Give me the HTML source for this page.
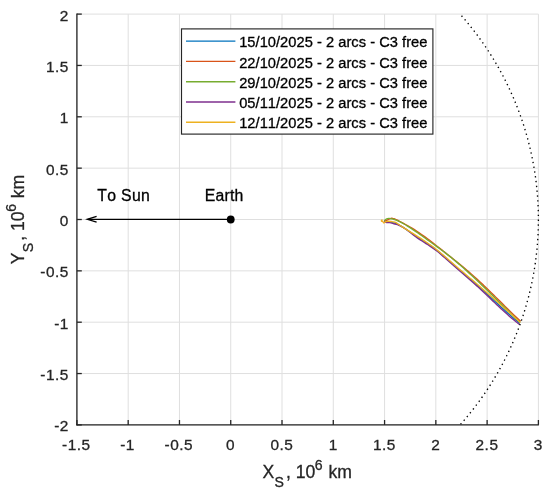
<!DOCTYPE html><html><head><meta charset="utf-8"><title>plot</title><style>html,body{margin:0;padding:0;background:#fff;}svg{display:block}text{font-family:"Liberation Sans",sans-serif;fill:#262626;stroke:#262626;stroke-width:0.3px;font-kerning:none}text.k{fill:#000;stroke:#000}</style></head><body>
<svg width="550" height="495" viewBox="0 0 550 495">
<rect width="550" height="495" fill="#fff"/>
<g stroke="#dfdfdf" stroke-width="1" fill="none">
<line x1="76.90" y1="14.1" x2="76.90" y2="424.9"/>
<line x1="128.18" y1="14.1" x2="128.18" y2="424.9"/>
<line x1="179.46" y1="14.1" x2="179.46" y2="424.9"/>
<line x1="230.73" y1="14.1" x2="230.73" y2="424.9"/>
<line x1="282.01" y1="14.1" x2="282.01" y2="424.9"/>
<line x1="333.29" y1="14.1" x2="333.29" y2="424.9"/>
<line x1="384.57" y1="14.1" x2="384.57" y2="424.9"/>
<line x1="435.84" y1="14.1" x2="435.84" y2="424.9"/>
<line x1="487.12" y1="14.1" x2="487.12" y2="424.9"/>
<line x1="538.40" y1="14.1" x2="538.40" y2="424.9"/>
<line x1="76.9" y1="14.10" x2="538.4" y2="14.10"/>
<line x1="76.9" y1="65.45" x2="538.4" y2="65.45"/>
<line x1="76.9" y1="116.80" x2="538.4" y2="116.80"/>
<line x1="76.9" y1="168.15" x2="538.4" y2="168.15"/>
<line x1="76.9" y1="219.50" x2="538.4" y2="219.50"/>
<line x1="76.9" y1="270.85" x2="538.4" y2="270.85"/>
<line x1="76.9" y1="322.20" x2="538.4" y2="322.20"/>
<line x1="76.9" y1="373.55" x2="538.4" y2="373.55"/>
<line x1="76.9" y1="424.90" x2="538.4" y2="424.90"/>
</g>
<g fill="none" stroke-width="1.35" stroke-linejoin="round" stroke-linecap="butt">
<path d="M384.30,221.00 C384.62,221.17 385.50,221.84 386.20,222.00 C386.90,222.16 387.45,221.87 388.50,221.97 C389.55,222.06 391.17,222.29 392.50,222.58 C393.83,222.87 395.17,223.17 396.50,223.71 C397.83,224.24 399.17,225.05 400.50,225.81 C401.83,226.57 403.17,227.40 404.50,228.26 C405.83,229.12 407.17,230.04 408.50,230.96 C409.83,231.88 411.17,232.83 412.50,233.76 C413.83,234.68 415.17,235.61 416.50,236.50 C417.83,237.40 419.17,238.27 420.50,239.15 C421.83,240.02 423.17,240.88 424.50,241.75 C425.83,242.63 427.17,243.49 428.50,244.40 C429.83,245.30 431.17,246.21 432.50,247.17 C433.83,248.13 435.17,249.11 436.50,250.15 C437.83,251.18 439.17,252.27 440.50,253.38 C441.83,254.49 443.17,255.66 444.50,256.82 C445.83,257.98 447.17,259.17 448.50,260.35 C449.83,261.52 451.17,262.71 452.50,263.88 C453.83,265.05 455.17,266.21 456.50,267.37 C457.83,268.53 459.17,269.68 460.50,270.83 C461.83,271.98 463.17,273.11 464.50,274.25 C465.83,275.39 467.17,276.53 468.50,277.67 C469.83,278.81 471.17,279.95 472.50,281.11 C473.83,282.26 475.17,283.42 476.50,284.60 C477.83,285.77 479.17,286.96 480.50,288.16 C481.83,289.36 483.17,290.57 484.50,291.78 C485.83,292.99 487.17,294.22 488.50,295.44 C489.83,296.66 491.17,297.90 492.50,299.12 C493.83,300.35 495.17,301.58 496.50,302.81 C497.83,304.03 499.17,305.26 500.50,306.47 C501.83,307.69 503.17,308.90 504.50,310.10 C505.83,311.30 507.17,312.49 508.50,313.67 C509.83,314.85 511.17,316.02 512.50,317.17 C513.83,318.32 515.27,319.56 516.50,320.57 C517.73,321.58 519.33,322.79 519.90,323.23" stroke="#0072BD"/>
<path d="M384.40,221.00 C384.78,220.88 385.93,220.62 386.70,220.30 C387.47,219.98 388.27,219.43 389.00,219.10 C389.73,218.77 390.53,218.43 391.10,218.30 C391.67,218.17 391.92,218.25 392.40,218.30 C392.88,218.35 393.48,218.42 394.00,218.60 C394.52,218.78 394.58,218.93 395.50,219.37 C396.42,219.81 398.17,220.58 399.50,221.24 C400.83,221.89 402.17,222.57 403.50,223.28 C404.83,223.99 406.17,224.73 407.50,225.50 C408.83,226.27 410.17,227.06 411.50,227.88 C412.83,228.70 414.17,229.54 415.50,230.41 C416.83,231.28 418.17,232.17 419.50,233.08 C420.83,234.00 422.17,234.94 423.50,235.89 C424.83,236.85 426.17,237.83 427.50,238.83 C428.83,239.82 430.17,240.83 431.50,241.86 C432.83,242.88 434.17,243.92 435.50,244.96 C436.83,246.00 438.17,247.05 439.50,248.11 C440.83,249.16 442.17,250.22 443.50,251.28 C444.83,252.34 446.17,253.39 447.50,254.45 C448.83,255.51 450.17,256.57 451.50,257.63 C452.83,258.69 454.17,259.75 455.50,260.82 C456.83,261.89 458.17,262.96 459.50,264.05 C460.83,265.14 462.17,266.23 463.50,267.33 C464.83,268.44 466.17,269.56 467.50,270.69 C468.83,271.83 470.17,272.97 471.50,274.14 C472.83,275.31 474.17,276.49 475.50,277.70 C476.83,278.90 478.17,280.13 479.50,281.37 C480.83,282.61 482.17,283.87 483.50,285.14 C484.83,286.42 486.17,287.70 487.50,289.00 C488.83,290.29 490.17,291.60 491.50,292.92 C492.83,294.23 494.17,295.55 495.50,296.87 C496.83,298.19 498.17,299.52 499.50,300.85 C500.83,302.17 502.17,303.50 503.50,304.82 C504.83,306.14 506.17,307.46 507.50,308.77 C508.83,310.08 510.17,311.39 511.50,312.68 C512.83,313.97 513.98,315.08 515.50,316.52 C517.02,317.96 519.75,320.50 520.60,321.30" stroke="#D95319"/>
<path d="M384.20,220.90 C384.33,220.77 384.67,220.40 385.00,220.10 C385.33,219.80 385.80,219.36 386.20,219.10 C386.60,218.84 386.93,218.67 387.40,218.55 C387.87,218.43 388.45,218.40 389.00,218.40 C389.55,218.40 390.03,218.43 390.70,218.55 C391.37,218.67 392.20,218.89 393.00,219.10 C393.80,219.31 394.42,219.41 395.50,219.83 C396.58,220.26 398.17,220.98 399.50,221.63 C400.83,222.28 402.17,222.98 403.50,223.73 C404.83,224.47 406.17,225.26 407.50,226.08 C408.83,226.90 410.17,227.75 411.50,228.63 C412.83,229.50 414.17,230.41 415.50,231.32 C416.83,232.24 418.17,233.18 419.50,234.12 C420.83,235.06 422.17,236.02 423.50,236.97 C424.83,237.93 426.17,238.89 427.50,239.84 C428.83,240.80 430.17,241.76 431.50,242.72 C432.83,243.68 434.17,244.64 435.50,245.61 C436.83,246.58 438.17,247.56 439.50,248.55 C440.83,249.54 442.17,250.53 443.50,251.55 C444.83,252.56 446.17,253.59 447.50,254.63 C448.83,255.68 450.17,256.74 451.50,257.82 C452.83,258.91 454.17,260.01 455.50,261.13 C456.83,262.25 458.17,263.39 459.50,264.54 C460.83,265.70 462.17,266.87 463.50,268.05 C464.83,269.24 466.17,270.44 467.50,271.65 C468.83,272.86 470.17,274.08 471.50,275.32 C472.83,276.56 474.17,277.80 475.50,279.06 C476.83,280.32 478.17,281.58 479.50,282.86 C480.83,284.13 482.17,285.42 483.50,286.70 C484.83,287.99 486.17,289.29 487.50,290.59 C488.83,291.89 490.17,293.19 491.50,294.50 C492.83,295.81 494.17,297.12 495.50,298.43 C496.83,299.74 498.17,301.06 499.50,302.37 C500.83,303.69 502.17,305.00 503.50,306.31 C504.83,307.63 506.17,308.94 507.50,310.24 C508.83,311.55 510.17,312.85 511.50,314.15 C512.83,315.45 514.05,316.63 515.50,318.03 C516.95,319.43 519.42,321.79 520.20,322.54" stroke="#77AC30"/>
<path d="M384.30,221.20 C384.58,221.38 385.30,222.07 386.00,222.30 C386.70,222.53 387.65,222.50 388.50,222.60 C389.35,222.70 390.30,222.72 391.10,222.90 C391.90,223.08 392.27,223.41 393.30,223.68 C394.33,223.95 395.97,224.07 397.30,224.51 C398.63,224.94 399.97,225.57 401.30,226.29 C402.63,227.00 403.97,227.88 405.30,228.79 C406.63,229.71 407.97,230.75 409.30,231.77 C410.63,232.79 411.97,233.89 413.30,234.90 C414.63,235.91 415.97,236.90 417.30,237.84 C418.63,238.78 419.97,239.64 421.30,240.51 C422.63,241.39 423.97,242.21 425.30,243.06 C426.63,243.92 427.97,244.75 429.30,245.62 C430.63,246.50 431.97,247.38 433.30,248.33 C434.63,249.28 435.97,250.27 437.30,251.32 C438.63,252.37 439.97,253.50 441.30,254.65 C442.63,255.79 443.97,256.98 445.30,258.16 C446.63,259.34 447.97,260.53 449.30,261.72 C450.63,262.90 451.97,264.09 453.30,265.27 C454.63,266.46 455.97,267.64 457.30,268.81 C458.63,269.98 459.97,271.15 461.30,272.31 C462.63,273.47 463.97,274.61 465.30,275.76 C466.63,276.91 467.97,278.06 469.30,279.21 C470.63,280.37 471.97,281.53 473.30,282.71 C474.63,283.90 475.97,285.10 477.30,286.31 C478.63,287.53 479.97,288.76 481.30,290.01 C482.63,291.25 483.97,292.52 485.30,293.78 C486.63,295.04 487.97,296.32 489.30,297.59 C490.63,298.86 491.97,300.14 493.30,301.41 C494.63,302.68 495.97,303.95 497.30,305.20 C498.63,306.46 499.97,307.71 501.30,308.95 C502.63,310.18 503.97,311.40 505.30,312.60 C506.63,313.80 507.97,314.99 509.30,316.15 C510.63,317.30 511.97,318.44 513.30,319.54 C514.63,320.64 516.27,321.94 517.30,322.75 C518.33,323.57 519.13,324.15 519.50,324.43" stroke="#7E2F8E"/>
<path d="M382.60,219.90 C382.42,219.98 381.67,220.18 381.50,220.40 C381.33,220.62 381.38,221.03 381.60,221.20 C381.82,221.37 382.53,221.23 382.80,221.40 C383.07,221.57 383.02,221.95 383.20,222.20 C383.38,222.45 383.63,222.87 383.90,222.90 C384.17,222.93 384.52,222.60 384.80,222.40 C385.08,222.20 385.07,221.88 385.60,221.70 C386.13,221.52 387.08,221.33 388.00,221.30 C388.92,221.27 390.22,221.40 391.10,221.50 C391.98,221.60 392.57,221.75 393.30,221.90 C394.03,222.05 394.47,221.89 395.50,222.41 C396.53,222.93 398.17,224.18 399.50,225.05 C400.83,225.91 402.17,226.76 403.50,227.61 C404.83,228.45 406.17,229.29 407.50,230.12 C408.83,230.96 410.17,231.78 411.50,232.62 C412.83,233.45 414.17,234.28 415.50,235.12 C416.83,235.96 418.17,236.80 419.50,237.66 C420.83,238.52 422.17,239.39 423.50,240.27 C424.83,241.16 426.17,242.05 427.50,242.98 C428.83,243.90 430.17,244.84 431.50,245.80 C432.83,246.77 434.17,247.76 435.50,248.78 C436.83,249.81 438.17,250.86 439.50,251.94 C440.83,253.03 442.17,254.16 443.50,255.31 C444.83,256.45 446.17,257.64 447.50,258.81 C448.83,259.98 450.17,261.16 451.50,262.32 C452.83,263.49 454.17,264.64 455.50,265.78 C456.83,266.93 458.17,268.07 459.50,269.20 C460.83,270.34 462.17,271.46 463.50,272.59 C464.83,273.72 466.17,274.84 467.50,275.97 C468.83,277.09 470.17,278.22 471.50,279.35 C472.83,280.48 474.17,281.61 475.50,282.75 C476.83,283.89 478.17,285.03 479.50,286.18 C480.83,287.33 482.17,288.49 483.50,289.66 C484.83,290.82 486.17,291.99 487.50,293.17 C488.83,294.35 490.17,295.53 491.50,296.71 C492.83,297.89 494.17,299.08 495.50,300.27 C496.83,301.46 498.17,302.65 499.50,303.85 C500.83,305.04 502.17,306.24 503.50,307.43 C504.83,308.62 506.17,309.82 507.50,311.01 C508.83,312.20 510.17,313.40 511.50,314.59 C512.83,315.77 514.03,316.85 515.50,318.15 C516.97,319.45 519.50,321.68 520.30,322.39" stroke="#EDB120"/>
</g>
<path d="M460.05,14.10 L460.80,14.94 L461.55,15.78 L462.29,16.63 L463.02,17.47 L463.76,18.32 L464.49,19.18 L465.22,20.03 L465.94,20.89 L466.67,21.75 L467.38,22.61 L468.10,23.48 L468.81,24.35 L469.52,25.22 L470.23,26.09 L470.93,26.97 L471.63,27.85 L472.33,28.73 L473.02,29.61 L473.71,30.50 L474.40,31.39 L475.08,32.28 L475.76,33.18 L476.44,34.07 L477.11,34.97 L477.78,35.87 L478.45,36.78 L479.12,37.68 L479.78,38.59 L480.43,39.50 L481.09,40.42 L481.74,41.33 L482.39,42.25 L483.03,43.17 L483.67,44.09 L484.31,45.02 L484.94,45.95 L485.57,46.88 L486.20,47.81 L486.83,48.74 L487.45,49.68 L488.06,50.62 L488.68,51.56 L489.29,52.50 L489.89,53.45 L490.50,54.40 L491.10,55.35 L491.69,56.30 L492.29,57.26 L492.87,58.21 L493.46,59.17 L494.04,60.13 L494.62,61.10 L495.20,62.06 L495.77,63.03 L496.34,64.00 L496.90,64.97 L497.46,65.94 L498.02,66.92 L498.58,67.90 L499.13,68.88 L499.67,69.86 L500.22,70.84 L500.76,71.83 L501.29,72.81 L501.83,73.80 L502.35,74.79 L502.88,75.79 L503.40,76.78 L503.92,77.78 L504.43,78.78 L504.95,79.78 L505.45,80.78 L505.96,81.79 L506.46,82.79 L506.95,83.80 L507.44,84.81 L507.93,85.82 L508.42,86.84 L508.90,87.85 L509.38,88.87 L509.85,89.89 L510.32,90.91 L510.79,91.93 L511.25,92.96 L511.71,93.98 L512.17,95.01 L512.62,96.04 L513.07,97.07 L513.51,98.10 L513.95,99.14 L514.39,100.17 L514.82,101.21 L515.25,102.25 L515.68,103.29 L516.10,104.33 L516.51,105.37 L516.93,106.42 L517.34,107.47 L517.74,108.51 L518.15,109.56 L518.55,110.61 L518.94,111.67 L519.33,112.72 L519.72,113.78 L520.10,114.83 L520.48,115.89 L520.86,116.95 L521.23,118.01 L521.60,119.07 L521.96,120.14 L522.32,121.20 L522.68,122.27 L523.03,123.33 L523.38,124.40 L523.72,125.47 L524.06,126.54 L524.40,127.62 L524.73,128.69 L525.06,129.76 L525.39,130.84 L525.71,131.92 L526.02,133.00 L526.34,134.08 L526.65,135.16 L526.95,136.24 L527.25,137.32 L527.55,138.40 L527.84,139.49 L528.13,140.58 L528.42,141.66 L528.70,142.75 L528.98,143.84 L529.25,144.93 L529.52,146.02 L529.79,147.11 L530.05,148.21 L530.31,149.30 L530.56,150.40 L530.81,151.49 L531.06,152.59 L531.30,153.69 L531.54,154.79 L531.77,155.88 L532.00,156.98 L532.23,158.09 L532.45,159.19 L532.67,160.29 L532.88,161.39 L533.09,162.50 L533.29,163.60 L533.50,164.71 L533.69,165.82 L533.89,166.92 L534.08,168.03 L534.26,169.14 L534.44,170.25 L534.62,171.36 L534.79,172.47 L534.96,173.58 L535.13,174.69 L535.29,175.81 L535.45,176.92 L535.60,178.03 L535.75,179.15 L535.89,180.26 L536.04,181.38 L536.17,182.49 L536.31,183.61 L536.43,184.73 L536.56,185.84 L536.68,186.96 L536.80,188.08 L536.91,189.20 L537.02,190.32 L537.12,191.44 L537.22,192.55 L537.32,193.67 L537.41,194.80 L537.50,195.92 L537.58,197.04 L537.66,198.16 L537.74,199.28 L537.81,200.40 L537.88,201.52 L537.94,202.65 L538.00,203.77 L538.05,204.89 L538.11,206.01 L538.15,207.14 L538.20,208.26 L538.23,209.38 L538.27,210.51 L538.30,211.63 L538.33,212.76 L538.35,213.88 L538.37,215.00 L538.38,216.13 L538.39,217.25 L538.40,218.38 L538.40,219.50 L538.40,220.62 L538.39,221.75 L538.38,222.87 L538.37,224.00 L538.35,225.12 L538.33,226.24 L538.30,227.37 L538.27,228.49 L538.23,229.62 L538.20,230.74 L538.15,231.86 L538.11,232.99 L538.05,234.11 L538.00,235.23 L537.94,236.35 L537.88,237.48 L537.81,238.60 L537.74,239.72 L537.66,240.84 L537.58,241.96 L537.50,243.08 L537.41,244.20 L537.32,245.33 L537.22,246.45 L537.12,247.56 L537.02,248.68 L536.91,249.80 L536.80,250.92 L536.68,252.04 L536.56,253.16 L536.43,254.27 L536.31,255.39 L536.17,256.51 L536.04,257.62 L535.89,258.74 L535.75,259.85 L535.60,260.97 L535.45,262.08 L535.29,263.19 L535.13,264.31 L534.96,265.42 L534.79,266.53 L534.62,267.64 L534.44,268.75 L534.26,269.86 L534.08,270.97 L533.89,272.08 L533.69,273.18 L533.50,274.29 L533.29,275.40 L533.09,276.50 L532.88,277.61 L532.67,278.71 L532.45,279.81 L532.23,280.91 L532.00,282.02 L531.77,283.12 L531.54,284.21 L531.30,285.31 L531.06,286.41 L530.81,287.51 L530.56,288.60 L530.31,289.70 L530.05,290.79 L529.79,291.89 L529.52,292.98 L529.25,294.07 L528.98,295.16 L528.70,296.25 L528.42,297.34 L528.13,298.42 L527.84,299.51 L527.55,300.60 L527.25,301.68 L526.95,302.76 L526.65,303.84 L526.34,304.92 L526.02,306.00 L525.71,307.08 L525.39,308.16 L525.06,309.24 L524.73,310.31 L524.40,311.38 L524.06,312.46 L523.72,313.53 L523.38,314.60 L523.03,315.67 L522.68,316.73 L522.32,317.80 L521.96,318.86 L521.60,319.93 L521.23,320.99 L520.86,322.05 L520.48,323.11 L520.10,324.17 L519.72,325.22 L519.33,326.28 L518.94,327.33 L518.55,328.39 L518.15,329.44 L517.74,330.49 L517.34,331.53 L516.93,332.58 L516.51,333.63 L516.10,334.67 L515.68,335.71 L515.25,336.75 L514.82,337.79 L514.39,338.83 L513.95,339.86 L513.51,340.90 L513.07,341.93 L512.62,342.96 L512.17,343.99 L511.71,345.02 L511.25,346.04 L510.79,347.07 L510.32,348.09 L509.85,349.11 L509.38,350.13 L508.90,351.15 L508.42,352.16 L507.93,353.18 L507.44,354.19 L506.95,355.20 L506.46,356.21 L505.96,357.21 L505.45,358.22 L504.95,359.22 L504.43,360.22 L503.92,361.22 L503.40,362.22 L502.88,363.21 L502.35,364.21 L501.83,365.20 L501.29,366.19 L500.76,367.17 L500.22,368.16 L499.67,369.14 L499.13,370.12 L498.58,371.10 L498.02,372.08 L497.46,373.06 L496.90,374.03 L496.34,375.00 L495.77,375.97 L495.20,376.94 L494.62,377.90 L494.04,378.87 L493.46,379.83 L492.87,380.79 L492.29,381.74 L491.69,382.70 L491.10,383.65 L490.50,384.60 L489.89,385.55 L489.29,386.50 L488.68,387.44 L488.06,388.38 L487.45,389.32 L486.83,390.26 L486.20,391.19 L485.57,392.12 L484.94,393.05 L484.31,393.98 L483.67,394.91 L483.03,395.83 L482.39,396.75 L481.74,397.67 L481.09,398.58 L480.43,399.50 L479.78,400.41 L479.12,401.32 L478.45,402.22 L477.78,403.13 L477.11,404.03 L476.44,404.93 L475.76,405.82 L475.08,406.72 L474.40,407.61 L473.71,408.50 L473.02,409.39 L472.33,410.27 L471.63,411.15 L470.93,412.03 L470.23,412.91 L469.52,413.78 L468.81,414.65 L468.10,415.52 L467.38,416.39 L466.67,417.25 L465.94,418.11 L465.22,418.97 L464.49,419.82 L463.76,420.68 L463.02,421.53 L462.29,422.37 L461.55,423.22 L460.80,424.06 L460.05,424.90" fill="none" stroke="#000" stroke-width="1.35" stroke-dasharray="1.35 3.49" stroke-dashoffset="2.65"/>
<g stroke="#262626" stroke-width="1.3" fill="none">
<line x1="76.9" y1="13.6" x2="76.9" y2="425.4"/>
<line x1="76.4" y1="424.9" x2="538.9" y2="424.9"/>
<line x1="76.90" y1="424.9" x2="76.90" y2="420.0"/>
<line x1="128.18" y1="424.9" x2="128.18" y2="420.0"/>
<line x1="179.46" y1="424.9" x2="179.46" y2="420.0"/>
<line x1="230.73" y1="424.9" x2="230.73" y2="420.0"/>
<line x1="282.01" y1="424.9" x2="282.01" y2="420.0"/>
<line x1="333.29" y1="424.9" x2="333.29" y2="420.0"/>
<line x1="384.57" y1="424.9" x2="384.57" y2="420.0"/>
<line x1="435.84" y1="424.9" x2="435.84" y2="420.0"/>
<line x1="487.12" y1="424.9" x2="487.12" y2="420.0"/>
<line x1="538.40" y1="424.9" x2="538.40" y2="420.0"/>
<line x1="76.9" y1="14.10" x2="81.80000000000001" y2="14.10"/>
<line x1="76.9" y1="65.45" x2="81.80000000000001" y2="65.45"/>
<line x1="76.9" y1="116.80" x2="81.80000000000001" y2="116.80"/>
<line x1="76.9" y1="168.15" x2="81.80000000000001" y2="168.15"/>
<line x1="76.9" y1="219.50" x2="81.80000000000001" y2="219.50"/>
<line x1="76.9" y1="270.85" x2="81.80000000000001" y2="270.85"/>
<line x1="76.9" y1="322.20" x2="81.80000000000001" y2="322.20"/>
<line x1="76.9" y1="373.55" x2="81.80000000000001" y2="373.55"/>
<line x1="76.9" y1="424.90" x2="81.80000000000001" y2="424.90"/>
</g>
<g font-size="15.4" text-anchor="middle" letter-spacing="0.5">
<text x="76.30" y="449.9">-1.5</text>
<text x="127.58" y="449.9">-1</text>
<text x="178.86" y="449.9">-0.5</text>
<text x="230.63" y="449.9">0</text>
<text x="281.91" y="449.9">0.5</text>
<text x="333.19" y="449.9">1</text>
<text x="384.47" y="449.9">1.5</text>
<text x="435.74" y="449.9">2</text>
<text x="487.02" y="449.9">2.5</text>
<text x="538.30" y="449.9">3</text>
</g>
<g font-size="15.4" text-anchor="end" letter-spacing="0.5">
<text x="68.9" y="20.60">2</text>
<text x="68.9" y="71.95">1.5</text>
<text x="68.9" y="123.30">1</text>
<text x="68.9" y="174.65">0.5</text>
<text x="68.9" y="226.00">0</text>
<text x="68.9" y="277.35">-0.5</text>
<text x="68.9" y="328.70">-1</text>
<text x="68.9" y="380.05">-1.5</text>
<text x="68.9" y="431.40">-2</text>
</g>
<g transform="translate(262.4,477.8)"><text x="0" y="0" font-size="17.6">X</text><text x="12.0" y="8.7" font-size="14.1">S</text><text x="23.5" y="0" font-size="17.6">, 10</text><text x="52.4" y="-8.2" font-size="14.1">6</text><text x="66.0" y="0" font-size="17.6">km</text></g>
<g transform="translate(24.1,264.2) rotate(-90)"><text x="0" y="0" font-size="17.6">Y</text><text x="12.0" y="8.7" font-size="14.1">S</text><text x="23.5" y="0" font-size="17.6">, 10</text><text x="52.4" y="-8.2" font-size="14.1">6</text><text x="66.0" y="0" font-size="17.6">km</text></g>
<line x1="230.73333333333335" y1="219.3" x2="88.3" y2="219.3" stroke="#000" stroke-width="1.3"/>
<path d="M96.6,216.4 L87.3,219.3 L96.6,222.20000000000002" fill="none" stroke="#000" stroke-width="1.3" stroke-linejoin="miter"/>
<circle cx="230.73333333333335" cy="219.49999999999997" r="3.9" fill="#000"/>
<text x="97.2" y="200.9" font-size="15.8" class="k" letter-spacing="0.35">To Sun</text>
<text x="204.8" y="200.9" font-size="15.8" class="k" letter-spacing="0.2">Earth</text>
<rect x="181.5" y="28.9" width="251.4" height="105.2" fill="#fff" stroke="#262626" stroke-width="1.15"/>
<line x1="186" y1="41.10" x2="235.4" y2="41.10" stroke="#0072BD" stroke-width="1.4"/>
<text x="239.2" y="47.20" font-size="14.67" class="k" letter-spacing="0.03">15/10/2025 - 2 arcs - C3 free</text>
<line x1="186" y1="61.40" x2="235.4" y2="61.40" stroke="#D95319" stroke-width="1.4"/>
<text x="239.2" y="67.50" font-size="14.67" class="k" letter-spacing="0.03">22/10/2025 - 2 arcs - C3 free</text>
<line x1="186" y1="81.70" x2="235.4" y2="81.70" stroke="#77AC30" stroke-width="1.4"/>
<text x="239.2" y="87.80" font-size="14.67" class="k" letter-spacing="0.03">29/10/2025 - 2 arcs - C3 free</text>
<line x1="186" y1="102.00" x2="235.4" y2="102.00" stroke="#7E2F8E" stroke-width="1.4"/>
<text x="239.2" y="108.10" font-size="14.67" class="k" letter-spacing="0.03">05/11/2025 - 2 arcs - C3 free</text>
<line x1="186" y1="122.30" x2="235.4" y2="122.30" stroke="#EDB120" stroke-width="1.4"/>
<text x="239.2" y="128.40" font-size="14.67" class="k" letter-spacing="0.03">12/11/2025 - 2 arcs - C3 free</text>
</svg></body></html>
